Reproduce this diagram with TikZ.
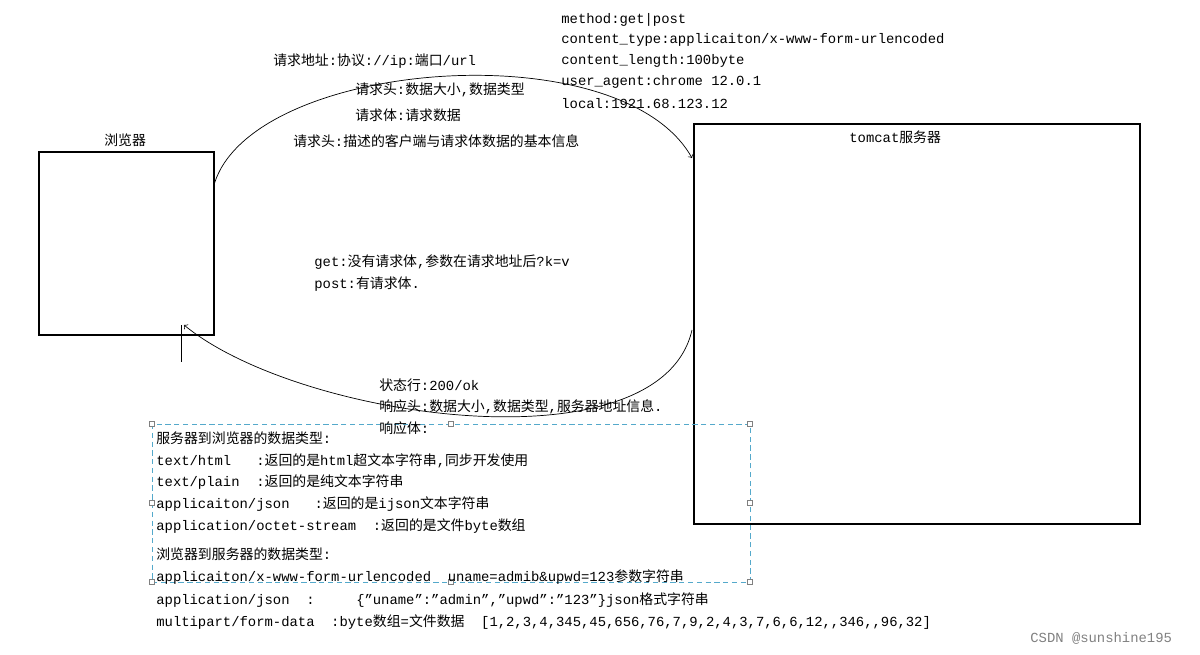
\documentclass[tikz,border=0pt]{standalone}
\usepackage{fontspec}
\setmainfont{Liberation Mono}
\newfontfamily\cjk{Noto Sans CJK SC}
\XeTeXinterchartokenstate=1
\newXeTeXintercharclass\cjkclass
\newcount\cc
\cc="4E00
\loop\ifnum\cc<"9FFF \XeTeXcharclass\cc=\cjkclass \advance\cc by 1 \repeat
\XeTeXinterchartoks 0 \cjkclass {\begingroup\cjk}
\XeTeXinterchartoks 4095 \cjkclass {\begingroup\cjk}
\XeTeXinterchartoks \cjkclass 0 {\endgroup}
\XeTeXinterchartoks \cjkclass 4095 {\endgroup}
\newcommand\dq{\symbol{34}}
\tikzset{
  txt/.style={anchor=west,inner sep=0pt,font=\fontsize{7.9pt}{9pt}\selectfont},
  boxframe/.style={draw,line width=1.6pt},
  handle/.style={draw=gray,fill=white,minimum size=3pt,inner sep=0pt}
}
\begin{document}
\begin{tikzpicture}[x=0.02cm,y=-0.02cm]
  \useasboundingbox (0,0) rectangle (1200,655);
  % boxes
  \draw[boxframe] (39,152) rectangle (214,335);
  \draw[boxframe] (694,124) rectangle (1140,524);
  \node[txt] (bname) at (104,140) {浏览器};
  \node[txt] (tname) at (849,137) {tomcat服务器};
  \coordinate (reqs) at (214,185);
  \coordinate (reqe) at (692,158);
  \coordinate (ress) at (692,330);
  \coordinate (rese) at (184,325);
  \draw[->] (reqs) .. controls (250,60) and (620,30) .. (reqe);
  \draw[->] (ress) .. controls (660,470) and (300,420) .. (rese);
  \draw (181,325) -- (181,362);
  % selection frame
  \draw[cyan!60!gray,densely dashed] (152,424) rectangle (750,582);
  \foreach \p in {(152,424),(451,424),(750,424),(152,503),(750,503),(152,582),(451,582),(750,582)}
    \node[handle] at \p {};
  % request texts
  \node[txt] (m1) at (561,20) {method:get|post};
  \node[txt] (m2) at (561,40) {content\_type:applicaiton/x-www-form-urlencoded};
  \node[txt] (m3) at (561,61) {content\_length:100byte};
  \node[txt] (m4) at (561,82) {user\_agent:chrome 12.0.1};
  \node[txt] (m5) at (561,104) {local:1921.68.123.12};
  \node[txt] (addr) at (273,61) {请求地址:协议://ip:端口/url};
  \node[txt] (rh) at (355,90) {请求头:数据大小,数据类型};
  \node[txt] (rb) at (355,115) {请求体:请求数据};
  \node[txt] (rd) at (293,141) {请求头:描述的客户端与请求体数据的基本信息};
  \node[txt] (g1) at (314,262) {get:没有请求体,参数在请求地址后?k=v};
  \node[txt] (g2) at (314,284) {post:有请求体.};
  % response texts
  \node[txt] (s1) at (379,385) {状态行:200/ok};
  \node[txt] (s2) at (379,407) {响应头:数据大小,数据类型,服务器地址信息.};
  \node[txt] (s3) at (379,428) {响应体:};
  \node[txt] (t0) at (156,438) {服务器到浏览器的数据类型:};
  \node[txt] (t1) at (156,461) {text/html\ \ \ :返回的是html超文本字符串,同步开发使用};
  \node[txt] (t2) at (156,482) {text/plain\ \ :返回的是纯文本字符串};
  \node[txt] (t3) at (156,504) {applicaiton/json\ \ \ :返回的是ijson文本字符串};
  \node[txt] (t4) at (156,526) {application/octet-stream\ \ :返回的是文件byte数组};
  \node[txt] (u0) at (156,554) {浏览器到服务器的数据类型:};
  \node[txt] (u1) at (156,577) {applicaiton/x-www-form-urlencoded\ \ uname=admib\&upwd=123参数字符串};
  \node[txt] (u2) at (156,600) {application/json\ \ :\ \ \ \ \ \{\dq uname\dq:\dq admin\dq,\dq upwd\dq:\dq 123\dq\}json格式字符串};
  \node[txt] (u3) at (156,622) {multipart/form-data\ \ :byte数组=文件数据\ \ [1,2,3,4,345,45,656,76,7,9,2,4,3,7,6,6,12,{},346,{},96,32]};
  \node[txt,text=gray] (mark) at (1030,638) {CSDN @sunshine195};
\end{tikzpicture}
\end{document}
